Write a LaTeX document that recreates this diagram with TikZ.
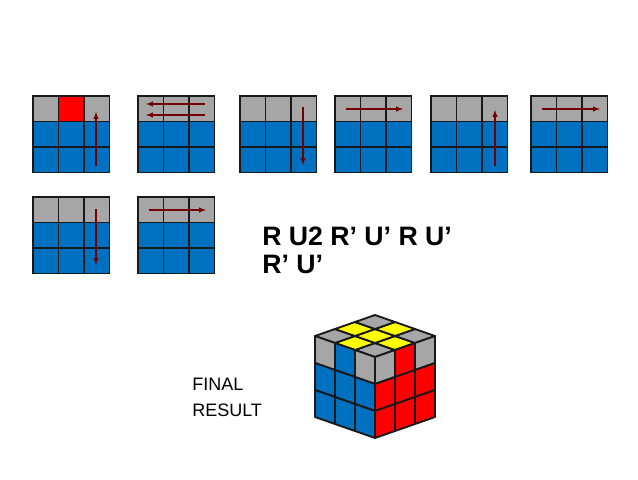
\documentclass[tikz,border=0pt]{standalone}
\usepackage{fontspec}
\setmainfont{Liberation Sans}
\begin{document}
\begin{tikzpicture}[x=0.75pt,y=-0.75pt,
  cell/.style={draw=black!90,line width=1.4pt},
  mv/.style={draw=red!45!black,line width=0.8pt,-latex}]
\definecolor{cgray}{HTML}{A6A6A6}
\definecolor{cblue}{HTML}{0070C0}
\definecolor{cred}{HTML}{FF0000}
\definecolor{cyel}{HTML}{FFFF00}
\useasboundingbox (0,0) rectangle (638,479);
\newcommand\myface[3]{%
  \foreach \c in {0,1,2}{%
    \fill[cgray] (#1+\c*25.5,#2) rectangle ++(25.5,25.5);
    \foreach \r in {1,2}{\fill[cblue] (#1+\c*25.5,#2+\r*25.5) rectangle ++(25.5,25.5);}}
  \fill[#3] (#1+25.5,#2) rectangle ++(25.5,25.5);
  \foreach \k in {1,2}{%
    \draw[cell] (#1+\k*25.5,#2) -- ++(0,76.5);
    \draw[cell] (#1,#2+\k*25.5) -- ++(76.5,0);}
  \draw[cell] (#1,#2) rectangle ++(76.5,76.5);}
\myface{33}{96}{cred}
\myface{138}{96}{cgray}
\myface{240}{96}{cgray}
\myface{335}{96}{cgray}
\myface{431}{96}{cgray}
\myface{531}{96}{cgray}
\myface{33}{197}{cgray}
\myface{138}{197}{cgray}
\coordinate (a1s) at (96,166); \coordinate (a1e) at (96,112);
\draw[mv] (a1s) -- (a1e);
\coordinate (a2s) at (205,104); \coordinate (a2e) at (146,104);
\coordinate (a3s) at (205,115); \coordinate (a3e) at (146,115);
\draw[mv] (a2s) -- (a2e); \draw[mv] (a3s) -- (a3e);
\coordinate (a4s) at (303,107); \coordinate (a4e) at (303,165);
\draw[mv] (a4s) -- (a4e);
\coordinate (a5s) at (346,109); \coordinate (a5e) at (403,109);
\draw[mv] (a5s) -- (a5e);
\coordinate (a6s) at (495,166); \coordinate (a6e) at (495,110);
\draw[mv] (a6s) -- (a6e);
\coordinate (a7s) at (542,109); \coordinate (a7e) at (600,109);
\draw[mv] (a7s) -- (a7e);
\coordinate (a8s) at (96,209); \coordinate (a8e) at (96,265);
\draw[mv] (a8s) -- (a8e);
\coordinate (a9s) at (149,210); \coordinate (a9e) at (206,210);
\draw[mv] (a9s) -- (a9e);
\node[anchor=base west,inner sep=0,font=\bfseries\fontsize{20pt}{24pt}\selectfont] (t1) at (262,245) {R U2 R’ U’ R U’};
\node[anchor=base west,inner sep=0,font=\bfseries\fontsize{20pt}{24pt}\selectfont] (t2) at (262,273) {R’ U’};
\node[anchor=base west,inner sep=0,font=\fontsize{13.5pt}{16pt}\selectfont] (f1) at (192,390) {FINAL};
\node[anchor=base west,inner sep=0,font=\fontsize{13.5pt}{16pt}\selectfont] (f2) at (192,416) {RESULT};
\begin{scope}[shift={(375,357)}]
\def\ax{-20}\def\ay{-7}\def\bx{20}\def\by{-7}\def\dd{27}
\foreach \i/\j/\col in {0/0/cgray,1/0/cyel,0/1/cyel,1/1/cyel,2/0/cgray,0/2/cgray,2/1/cyel,1/2/cyel,2/2/cgray}{
  \filldraw[fill=\col,cell,line join=round]
   (\i*\ax+\j*\bx,\i*\ay+\j*\by) -- ++(\ax,\ay) -- ++(\bx,\by) -- ++(-\ax,-\ay) -- cycle;}
\foreach \k/\r/\col in {0/0/cgray,1/0/cblue,2/0/cgray,0/1/cblue,1/1/cblue,2/1/cblue,0/2/cblue,1/2/cblue,2/2/cblue}{
  \filldraw[fill=\col,cell,line join=round]
   ({(3-\k)*\ax},{(3-\k)*\ay+\r*\dd}) -- ++(-\ax,-\ay) -- ++(0,\dd) -- ++(\ax,\ay) -- cycle;}
\foreach \k/\r/\col in {0/0/cgray,1/0/cred,2/0/cgray,0/1/cred,1/1/cred,2/1/cred,0/2/cred,1/2/cred,2/2/cred}{
  \filldraw[fill=\col,cell,line join=round]
   ({\k*\bx},{\k*\by+\r*\dd}) -- ++(\bx,\by) -- ++(0,\dd) -- ++(-\bx,-\by) -- cycle;}
\end{scope}
\end{tikzpicture}
\end{document}
